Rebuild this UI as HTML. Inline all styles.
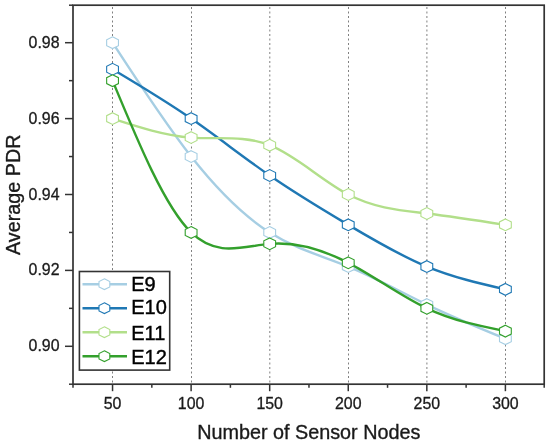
<!DOCTYPE html>
<html><head><meta charset="utf-8"><style>
html,body{margin:0;padding:0;background:#fff;width:550px;height:447px;overflow:hidden}
svg{display:block}
text{font-family:"Liberation Sans",Arial,sans-serif;fill:#1a1a1a}
.tl{font-size:15.9px;stroke:#1a1a1a;stroke-width:0.3px}
.at{font-size:19.8px;stroke:#1a1a1a;stroke-width:0.35px}
.lg{font-size:20px;fill:#000;stroke:#000;stroke-width:0.4px}
</style></head><body>
<svg width="550" height="447" viewBox="0 0 550 447">
<rect width="550" height="447" fill="#fff"/>
<line x1="112.5" y1="7" x2="112.5" y2="383.20" stroke="#808080" stroke-width="1" stroke-dasharray="2 2.5"/>
<line x1="191.5" y1="7" x2="191.5" y2="383.20" stroke="#808080" stroke-width="1" stroke-dasharray="2 2.5"/>
<line x1="269.8" y1="7" x2="269.8" y2="383.20" stroke="#808080" stroke-width="1" stroke-dasharray="2 2.5"/>
<line x1="348.5" y1="7" x2="348.5" y2="383.20" stroke="#808080" stroke-width="1" stroke-dasharray="2 2.5"/>
<line x1="426.9" y1="7" x2="426.9" y2="383.20" stroke="#808080" stroke-width="1" stroke-dasharray="2 2.5"/>
<line x1="505.5" y1="7" x2="505.5" y2="383.20" stroke="#808080" stroke-width="1" stroke-dasharray="2 2.5"/>
<path d="M112.55 42.70 C138.74 83.01 164.93 123.32 191.12 156.55 C217.31 189.78 243.50 215.93 269.69 232.45 C295.88 248.97 322.07 255.87 348.26 266.60 C374.45 277.34 400.64 291.90 426.83 304.55 C453.02 317.21 479.21 327.96 505.40 338.71" fill="none" stroke="#a6cee3" stroke-width="2.4"/>
<polygon points="112.55,36.80 118.45,39.75 118.45,45.65 112.55,48.60 106.65,45.65 106.65,39.75" fill="#fff" stroke="#a6cee3" stroke-width="1.1"/>
<polygon points="191.12,150.65 197.02,153.60 197.02,159.50 191.12,162.45 185.22,159.50 185.22,153.60" fill="#fff" stroke="#a6cee3" stroke-width="1.1"/>
<polygon points="269.69,226.55 275.59,229.50 275.59,235.40 269.69,238.35 263.79,235.40 263.79,229.50" fill="#fff" stroke="#a6cee3" stroke-width="1.1"/>
<polygon points="348.26,260.70 354.16,263.65 354.16,269.55 348.26,272.50 342.36,269.55 342.36,263.65" fill="#fff" stroke="#a6cee3" stroke-width="1.1"/>
<polygon points="426.83,298.65 432.73,301.60 432.73,307.50 426.83,310.45 420.93,307.50 420.93,301.60" fill="#fff" stroke="#a6cee3" stroke-width="1.1"/>
<polygon points="505.40,332.81 511.30,335.76 511.30,341.66 505.40,344.61 499.50,341.66 499.50,335.76" fill="#fff" stroke="#a6cee3" stroke-width="1.1"/>
<path d="M112.55 69.27 C138.74 84.87 164.93 100.47 191.12 118.60 C217.31 136.73 243.50 157.38 269.69 175.53 C295.88 193.67 322.07 209.31 348.26 224.86 C374.45 240.41 400.64 255.87 426.83 266.60 C453.02 277.34 479.21 283.36 505.40 289.37" fill="none" stroke="#1f78b4" stroke-width="2.4"/>
<polygon points="112.55,63.37 118.45,66.32 118.45,72.22 112.55,75.17 106.65,72.22 106.65,66.32" fill="#fff" stroke="#1f78b4" stroke-width="1.1"/>
<polygon points="191.12,112.70 197.02,115.65 197.02,121.55 191.12,124.50 185.22,121.55 185.22,115.65" fill="#fff" stroke="#1f78b4" stroke-width="1.1"/>
<polygon points="269.69,169.63 275.59,172.58 275.59,178.48 269.69,181.43 263.79,178.48 263.79,172.58" fill="#fff" stroke="#1f78b4" stroke-width="1.1"/>
<polygon points="348.26,218.96 354.16,221.91 354.16,227.81 348.26,230.76 342.36,227.81 342.36,221.91" fill="#fff" stroke="#1f78b4" stroke-width="1.1"/>
<polygon points="426.83,260.70 432.73,263.65 432.73,269.55 426.83,272.50 420.93,269.55 420.93,263.65" fill="#fff" stroke="#1f78b4" stroke-width="1.1"/>
<polygon points="505.40,283.47 511.30,286.42 511.30,292.32 505.40,295.27 499.50,292.32 499.50,286.42" fill="#fff" stroke="#1f78b4" stroke-width="1.1"/>
<path d="M112.55 118.60 C138.74 127.12 164.93 135.64 191.12 137.58 C217.31 139.51 243.50 134.85 269.69 145.17 C295.88 155.48 322.07 180.78 348.26 194.50 C374.45 208.22 400.64 210.35 426.83 213.47 C453.02 216.60 479.21 220.73 505.40 224.86" fill="none" stroke="#b2df8a" stroke-width="2.4"/>
<polygon points="112.55,112.70 118.45,115.65 118.45,121.55 112.55,124.50 106.65,121.55 106.65,115.65" fill="#fff" stroke="#b2df8a" stroke-width="1.1"/>
<polygon points="191.12,131.68 197.02,134.63 197.02,140.53 191.12,143.48 185.22,140.53 185.22,134.63" fill="#fff" stroke="#b2df8a" stroke-width="1.1"/>
<polygon points="269.69,139.27 275.59,142.22 275.59,148.12 269.69,151.07 263.79,148.12 263.79,142.22" fill="#fff" stroke="#b2df8a" stroke-width="1.1"/>
<polygon points="348.26,188.60 354.16,191.55 354.16,197.45 348.26,200.40 342.36,197.45 342.36,191.55" fill="#fff" stroke="#b2df8a" stroke-width="1.1"/>
<polygon points="426.83,207.57 432.73,210.52 432.73,216.42 426.83,219.37 420.93,216.42 420.93,210.52" fill="#fff" stroke="#b2df8a" stroke-width="1.1"/>
<polygon points="505.40,218.96 511.30,221.91 511.30,227.81 505.40,230.76 499.50,227.81 499.50,221.91" fill="#fff" stroke="#b2df8a" stroke-width="1.1"/>
<path d="M112.55 80.65 C138.74 143.77 164.93 206.88 191.12 232.45 C217.31 258.02 243.50 246.03 269.69 243.83 C295.88 241.64 322.07 249.23 348.26 262.81 C374.45 276.39 400.64 295.97 426.83 308.35 C453.02 320.73 479.21 325.93 505.40 331.12" fill="none" stroke="#33a02c" stroke-width="2.4"/>
<polygon points="112.55,74.75 118.45,77.70 118.45,83.60 112.55,86.55 106.65,83.60 106.65,77.70" fill="#fff" stroke="#33a02c" stroke-width="1.1"/>
<polygon points="191.12,226.55 197.02,229.50 197.02,235.40 191.12,238.35 185.22,235.40 185.22,229.50" fill="#fff" stroke="#33a02c" stroke-width="1.1"/>
<polygon points="269.69,237.93 275.59,240.88 275.59,246.78 269.69,249.73 263.79,246.78 263.79,240.88" fill="#fff" stroke="#33a02c" stroke-width="1.1"/>
<polygon points="348.26,256.91 354.16,259.86 354.16,265.76 348.26,268.71 342.36,265.76 342.36,259.86" fill="#fff" stroke="#33a02c" stroke-width="1.1"/>
<polygon points="426.83,302.45 432.73,305.40 432.73,311.30 426.83,314.25 420.93,311.30 420.93,305.40" fill="#fff" stroke="#33a02c" stroke-width="1.1"/>
<polygon points="505.40,325.22 511.30,328.17 511.30,334.07 505.40,337.02 499.50,334.07 499.50,328.17" fill="#fff" stroke="#33a02c" stroke-width="1.1"/>
<rect x="73.00" y="5.20" width="471.20" height="379.00" fill="none" stroke="#333" stroke-width="1.7"/>
<line x1="69.00" y1="384.20" x2="73.00" y2="384.20" stroke="#333" stroke-width="1.5"/>
<line x1="65.00" y1="346.30" x2="73.00" y2="346.30" stroke="#333" stroke-width="1.5"/>
<text x="59.5" y="351.30" text-anchor="end" class="tl">0.90</text>
<line x1="69.00" y1="308.35" x2="73.00" y2="308.35" stroke="#333" stroke-width="1.5"/>
<line x1="65.00" y1="270.40" x2="73.00" y2="270.40" stroke="#333" stroke-width="1.5"/>
<text x="59.5" y="275.40" text-anchor="end" class="tl">0.92</text>
<line x1="69.00" y1="232.45" x2="73.00" y2="232.45" stroke="#333" stroke-width="1.5"/>
<line x1="65.00" y1="194.50" x2="73.00" y2="194.50" stroke="#333" stroke-width="1.5"/>
<text x="59.5" y="199.50" text-anchor="end" class="tl">0.94</text>
<line x1="69.00" y1="156.55" x2="73.00" y2="156.55" stroke="#333" stroke-width="1.5"/>
<line x1="65.00" y1="118.60" x2="73.00" y2="118.60" stroke="#333" stroke-width="1.5"/>
<text x="59.5" y="123.60" text-anchor="end" class="tl">0.96</text>
<line x1="69.00" y1="80.65" x2="73.00" y2="80.65" stroke="#333" stroke-width="1.5"/>
<line x1="65.00" y1="42.70" x2="73.00" y2="42.70" stroke="#333" stroke-width="1.5"/>
<text x="59.5" y="47.70" text-anchor="end" class="tl">0.98</text>
<line x1="69.00" y1="5.20" x2="73.00" y2="5.20" stroke="#333" stroke-width="1.5"/>
<line x1="73.00" y1="384.20" x2="73.00" y2="387.80" stroke="#333" stroke-width="1.5"/>
<line x1="112.55" y1="384.20" x2="112.55" y2="391.20" stroke="#333" stroke-width="1.5"/>
<text x="112.55" y="408.6" text-anchor="middle" class="tl">50</text>
<line x1="151.83" y1="384.20" x2="151.83" y2="387.80" stroke="#333" stroke-width="1.5"/>
<line x1="191.12" y1="384.20" x2="191.12" y2="391.20" stroke="#333" stroke-width="1.5"/>
<text x="191.12" y="408.6" text-anchor="middle" class="tl">100</text>
<line x1="230.40" y1="384.20" x2="230.40" y2="387.80" stroke="#333" stroke-width="1.5"/>
<line x1="269.69" y1="384.20" x2="269.69" y2="391.20" stroke="#333" stroke-width="1.5"/>
<text x="269.69" y="408.6" text-anchor="middle" class="tl">150</text>
<line x1="308.97" y1="384.20" x2="308.97" y2="387.80" stroke="#333" stroke-width="1.5"/>
<line x1="348.26" y1="384.20" x2="348.26" y2="391.20" stroke="#333" stroke-width="1.5"/>
<text x="348.26" y="408.6" text-anchor="middle" class="tl">200</text>
<line x1="387.55" y1="384.20" x2="387.55" y2="387.80" stroke="#333" stroke-width="1.5"/>
<line x1="426.83" y1="384.20" x2="426.83" y2="391.20" stroke="#333" stroke-width="1.5"/>
<text x="426.83" y="408.6" text-anchor="middle" class="tl">250</text>
<line x1="466.12" y1="384.20" x2="466.12" y2="387.80" stroke="#333" stroke-width="1.5"/>
<line x1="505.40" y1="384.20" x2="505.40" y2="391.20" stroke="#333" stroke-width="1.5"/>
<text x="505.40" y="408.6" text-anchor="middle" class="tl">300</text>
<line x1="544.20" y1="384.20" x2="544.20" y2="387.80" stroke="#333" stroke-width="1.5"/>
<text x="308.8" y="438.6" text-anchor="middle" class="at">Number of Sensor Nodes</text>
<text transform="translate(20.1 194.75) rotate(-90)" text-anchor="middle" class="at">Average PDR</text>
<rect x="79.4" y="271.5" width="90.3" height="98.6" fill="#fff" stroke="#333" stroke-width="1.6"/>
<line x1="82.5" y1="284.20" x2="127" y2="284.20" stroke="#a6cee3" stroke-width="2.4"/>
<polygon points="104.40,278.80 109.80,281.50 109.80,286.90 104.40,289.60 99.00,286.90 99.00,281.50" fill="#fff" stroke="#a6cee3" stroke-width="1.1"/>
<text x="131.2" y="291.10" class="lg">E9</text>
<line x1="82.5" y1="308.20" x2="127" y2="308.20" stroke="#1f78b4" stroke-width="2.4"/>
<polygon points="104.40,302.80 109.80,305.50 109.80,310.90 104.40,313.60 99.00,310.90 99.00,305.50" fill="#fff" stroke="#1f78b4" stroke-width="1.1"/>
<text x="131.2" y="314.40" class="lg">E10</text>
<line x1="82.5" y1="332.20" x2="127" y2="332.20" stroke="#b2df8a" stroke-width="2.4"/>
<polygon points="104.40,326.80 109.80,329.50 109.80,334.90 104.40,337.60 99.00,334.90 99.00,329.50" fill="#fff" stroke="#b2df8a" stroke-width="1.1"/>
<text x="131.2" y="339.50" class="lg">E11</text>
<line x1="82.5" y1="356.20" x2="127" y2="356.20" stroke="#33a02c" stroke-width="2.4"/>
<polygon points="104.40,350.80 109.80,353.50 109.80,358.90 104.40,361.60 99.00,358.90 99.00,353.50" fill="#fff" stroke="#33a02c" stroke-width="1.1"/>
<text x="131.2" y="363.80" class="lg">E12</text>
</svg>
</body></html>
